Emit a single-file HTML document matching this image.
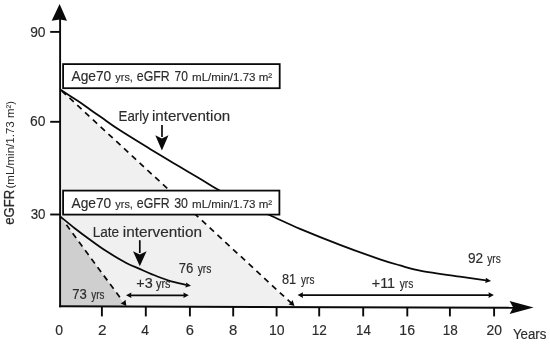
<!DOCTYPE html>
<html><head><meta charset="utf-8"><style>
html,body{margin:0;padding:0;background:#fff;width:550px;height:345px;overflow:hidden}
svg{display:block}
text{font-family:"Liberation Sans",Arial,sans-serif;fill:#2b2b2b;stroke:#2b2b2b;stroke-width:0.15px}
</style></head><body>
<svg width="550" height="345" viewBox="0 0 550 345">
<polygon points="60,89.4 294.3,307.1 60,306.3" fill="#f0f0f0"/>
<polygon points="60,216.4 126.2,306.5 60,306.3" fill="#cfcfcf"/>
<path d="M60.20,89.40 L291.00,302.89" stroke="#0a0a0a" stroke-width="1.7" fill="none" stroke-dasharray="5.85 4.76" stroke-dashoffset="8.57"/>
<polygon points="294.5,305.9 288.6,304.5 290.8,302.5 292.6,300.1" fill="#0a0a0a"/>
<path d="M66.40,224.81 L121.50,299.58" stroke="#0a0a0a" stroke-width="1.7" fill="none" stroke-dasharray="5.90 4.62" stroke-dashoffset="10.52"/>
<polygon points="126.4,305.9 120.7,303.4 123.3,301.8 125.5,299.8" fill="#0a0a0a"/>
<path d="M60.2,89.4 C63.2,91.4 73.0,97.8 78.0,101.1 C83.0,104.4 86.0,106.7 90.0,109.5 C94.0,112.3 97.0,114.3 102.0,117.8 C107.0,121.3 112.0,125.1 120.0,130.3 C128.0,135.5 141.7,143.8 150.0,148.9 C158.3,154.0 161.7,156.1 170.0,161.1 C178.3,166.1 192.1,174.0 200.0,178.7 C207.9,183.4 210.2,185.2 217.4,189.3 C224.6,193.4 234.2,199.1 243.0,203.4 C251.8,207.7 260.5,211.1 270.0,215.3 C279.5,219.5 288.3,223.9 300.0,228.8 C311.7,233.7 326.7,239.7 340.0,244.8 C353.3,249.9 370.0,255.9 380.0,259.3 C390.0,262.7 393.3,263.5 400.0,265.4 C406.7,267.3 410.0,268.7 420.0,270.6 C430.0,272.5 449.0,275.1 460.0,276.7 C471.0,278.3 481.7,279.7 486.0,280.3" stroke="#0a0a0a" stroke-width="1.8" fill="none"/>
<polygon points="491.1,280.9 485.2,282.9 485.9,280.3 485.8,277.7" fill="#0a0a0a"/>
<path d="M60.2,216.5 C62.7,218.5 70.4,224.9 75.0,228.5 C79.6,232.1 82.9,234.6 88.0,238.3 C93.1,242.0 99.0,246.5 105.4,250.6 C111.8,254.7 120.7,260.0 126.3,263.0 C131.9,266.0 134.7,266.7 139.0,268.6 C143.3,270.5 147.2,272.3 152.1,274.3 C157.0,276.3 163.0,278.8 168.7,280.6 C174.3,282.4 183.1,284.2 186.0,284.9" stroke="#0a0a0a" stroke-width="1.8" fill="none"/>
<polygon points="191.0,285.8 185.3,287.5 186.1,285.1 186.1,282.5" fill="#0a0a0a"/>
<path d="M129,295.3 L186,295.3" stroke="#0a0a0a" stroke-width="1.8"/>
<polygon points="126.0,295.3 131.4,292.5 131.0,295.3 131.4,298.1" fill="#0a0a0a"/>
<polygon points="188.8,295.3 183.4,298.1 183.8,295.3 183.4,292.5" fill="#0a0a0a"/>
<path d="M300,295.1 L491,295.1" stroke="#0a0a0a" stroke-width="1.8"/>
<polygon points="297.6,295.1 303.0,292.3 302.6,295.1 303.0,297.9" fill="#0a0a0a"/>
<polygon points="493.9,295.1 488.5,297.9 488.9,295.1 488.5,292.3" fill="#0a0a0a"/>
<path d="M162,124.9 L162,137" stroke="#0a0a0a" stroke-width="1.7"/>
<polygon points="161.9,150.6 155.3,135.3 161.9,138.5 168.5,135.3" fill="#0a0a0a"/>
<path d="M139.8,240.2 L139.8,253" stroke="#0a0a0a" stroke-width="1.7"/>
<polygon points="139.8,266.2 133.0,251.2 139.8,254.4 146.6,251.2" fill="#0a0a0a"/>
<rect x="63.1" y="64.1" width="216.6" height="24.1" fill="#fff" stroke="#0a0a0a" stroke-width="1.8"/>
<rect x="63.1" y="190.6" width="216.3" height="24.0" fill="#fff" stroke="#0a0a0a" stroke-width="1.8"/>
<path d="M60.1,19 L60.1,307.2" stroke="#0a0a0a" stroke-width="1.9"/>
<path d="M59.2,306.30 L514,307.80" stroke="#0a0a0a" stroke-width="1.9"/>
<polygon points="59.6,4 51.7,20.8 59.8,19.4 67,20.8" fill="#0a0a0a"/>
<polygon points="533.6,307.6 509.6,301.1 513.2,307.6 509.6,314" fill="#0a0a0a"/>
<path d="M50.2,31.9 L60,31.9" stroke="#0a0a0a" stroke-width="1.9"/>
<path d="M50.2,121.8 L60,121.8" stroke="#0a0a0a" stroke-width="1.9"/>
<path d="M50.2,214.5 L60,214.5" stroke="#0a0a0a" stroke-width="1.9"/>
<path d="M101.9,306.44 L101.9,316.4" stroke="#0a0a0a" stroke-width="1.9"/>
<path d="M145.8,306.58 L145.8,316.4" stroke="#0a0a0a" stroke-width="1.9"/>
<path d="M189.9,306.73 L189.9,316.4" stroke="#0a0a0a" stroke-width="1.9"/>
<path d="M233.2,306.87 L233.2,316.4" stroke="#0a0a0a" stroke-width="1.9"/>
<path d="M276.6,307.01 L276.6,316.4" stroke="#0a0a0a" stroke-width="1.9"/>
<path d="M319.2,307.16 L319.2,316.4" stroke="#0a0a0a" stroke-width="1.9"/>
<path d="M363.2,307.30 L363.2,316.4" stroke="#0a0a0a" stroke-width="1.9"/>
<path d="M407.3,307.45 L407.3,316.4" stroke="#0a0a0a" stroke-width="1.9"/>
<path d="M449.9,307.59 L449.9,316.4" stroke="#0a0a0a" stroke-width="1.9"/>
<path d="M494.1,307.73 L494.1,316.4" stroke="#0a0a0a" stroke-width="1.9"/>
<text x="30.14" y="36.50" font-size="14.0" textLength="15.41" lengthAdjust="spacingAndGlyphs">90</text>
<text x="30.11" y="126.40" font-size="14.0" textLength="15.45" lengthAdjust="spacingAndGlyphs">60</text>
<text x="30.70" y="218.70" font-size="14.0" textLength="14.83" lengthAdjust="spacingAndGlyphs">30</text>
<text x="55.24" y="334.70" font-size="14.0" textLength="7.80" lengthAdjust="spacingAndGlyphs">0</text>
<text x="98.13" y="334.70" font-size="14.0" textLength="8.56" lengthAdjust="spacingAndGlyphs">2</text>
<text x="141.19" y="334.70" font-size="14.0" textLength="7.71" lengthAdjust="spacingAndGlyphs">4</text>
<text x="185.86" y="334.70" font-size="14.0" textLength="8.18" lengthAdjust="spacingAndGlyphs">6</text>
<text x="228.97" y="334.70" font-size="14.0" textLength="8.28" lengthAdjust="spacingAndGlyphs">8</text>
<text x="269.05" y="334.70" font-size="14.0" textLength="15.61" lengthAdjust="spacingAndGlyphs">10</text>
<text x="311.68" y="334.70" font-size="14.0" textLength="15.13" lengthAdjust="spacingAndGlyphs">12</text>
<text x="356.10" y="334.70" font-size="14.0" textLength="14.79" lengthAdjust="spacingAndGlyphs">14</text>
<text x="399.34" y="334.70" font-size="14.0" textLength="15.69" lengthAdjust="spacingAndGlyphs">16</text>
<text x="442.79" y="334.70" font-size="14.0" textLength="15.02" lengthAdjust="spacingAndGlyphs">18</text>
<text x="486.41" y="334.70" font-size="14.0" textLength="15.45" lengthAdjust="spacingAndGlyphs">20</text>
<text x="512.90" y="339.20" font-size="14.0" textLength="33.47" lengthAdjust="spacingAndGlyphs">Years</text>
<text x="71.47" y="81.20" font-size="14.0" textLength="39.77" lengthAdjust="spacingAndGlyphs">Age70</text>
<text x="115.37" y="81.20" font-size="11.5" textLength="17.52" lengthAdjust="spacingAndGlyphs">yrs,</text>
<text x="136.78" y="81.20" font-size="14.0" textLength="32.91" lengthAdjust="spacingAndGlyphs">eGFR</text>
<text x="174.60" y="81.20" font-size="14.0" textLength="13.38" lengthAdjust="spacingAndGlyphs">70</text>
<text x="192.02" y="81.20" font-size="11.5" textLength="80.20" lengthAdjust="spacingAndGlyphs">mL/min/1.73 m²</text>
<text x="71.47" y="207.80" font-size="14.0" textLength="39.77" lengthAdjust="spacingAndGlyphs">Age70</text>
<text x="115.37" y="207.80" font-size="11.5" textLength="17.52" lengthAdjust="spacingAndGlyphs">yrs,</text>
<text x="136.78" y="207.80" font-size="14.0" textLength="32.91" lengthAdjust="spacingAndGlyphs">eGFR</text>
<text x="174.24" y="207.80" font-size="14.0" textLength="13.76" lengthAdjust="spacingAndGlyphs">30</text>
<text x="192.02" y="207.80" font-size="11.5" textLength="80.20" lengthAdjust="spacingAndGlyphs">mL/min/1.73 m²</text>
<text x="118.50" y="121.00" font-size="14.0" textLength="30.34" lengthAdjust="spacingAndGlyphs">Early</text>
<text x="151.98" y="121.00" font-size="14.0" textLength="78.27" lengthAdjust="spacingAndGlyphs">intervention</text>
<text x="92.68" y="236.50" font-size="14.0" textLength="26.52" lengthAdjust="spacingAndGlyphs">Late</text>
<text x="122.76" y="236.50" font-size="14.0" textLength="79.30" lengthAdjust="spacingAndGlyphs">intervention</text>
<text x="72.25" y="298.90" font-size="14.0" textLength="14.54" lengthAdjust="spacingAndGlyphs">73</text>
<text x="91.28" y="298.90" font-size="12.0" textLength="13.07" lengthAdjust="spacingAndGlyphs">yrs</text>
<text x="136.32" y="288.20" font-size="14.0" textLength="16.40" lengthAdjust="spacingAndGlyphs">+3</text>
<text x="155.97" y="288.20" font-size="12.0" textLength="14.51" lengthAdjust="spacingAndGlyphs">yrs</text>
<text x="178.74" y="272.90" font-size="14.0" textLength="14.65" lengthAdjust="spacingAndGlyphs">76</text>
<text x="197.67" y="272.90" font-size="12.0" textLength="13.69" lengthAdjust="spacingAndGlyphs">yrs</text>
<text x="281.96" y="283.80" font-size="14.0" textLength="14.18" lengthAdjust="spacingAndGlyphs">81</text>
<text x="301.08" y="283.80" font-size="12.0" textLength="13.28" lengthAdjust="spacingAndGlyphs">yrs</text>
<text x="371.82" y="288.10" font-size="14.0" textLength="23.29" lengthAdjust="spacingAndGlyphs">+11</text>
<text x="399.77" y="288.10" font-size="12.0" textLength="13.59" lengthAdjust="spacingAndGlyphs">yrs</text>
<text x="468.05" y="263.30" font-size="14.0" textLength="15.16" lengthAdjust="spacingAndGlyphs">92</text>
<text x="487.27" y="263.30" font-size="12.0" textLength="13.48" lengthAdjust="spacingAndGlyphs">yrs</text>
<text transform="rotate(-90)" x="-224.66" y="13.90" font-size="14.0" textLength="34.87" lengthAdjust="spacingAndGlyphs" style="stroke-width:0.25px">eGFR</text>
<text transform="rotate(-90)" x="-188.52" y="13.90" font-size="10.8" textLength="87.71" lengthAdjust="spacingAndGlyphs" style="stroke-width:0">(mL/min/1.73 m²)</text>
</svg>
</body></html>
